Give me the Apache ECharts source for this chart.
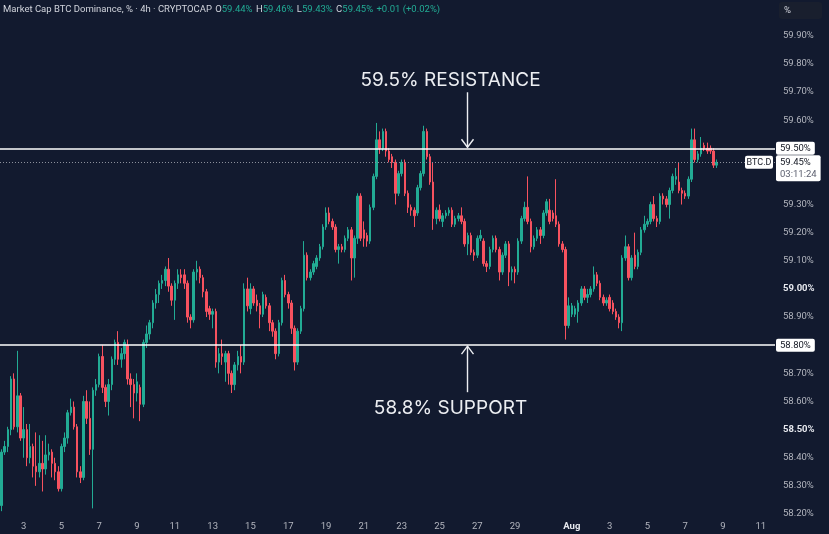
<!DOCTYPE html>
<html><head><meta charset="utf-8">
<script src="https://cdn.jsdelivr.net/npm/echarts/dist/echarts.min.js"></script>
<style>html,body{margin:0;padding:0;background:#121a2f;overflow:hidden}#c{width:829px;height:534px}</style>
</head><body><div id="c"></div>
<script>
// ---- data (4h candles starting 07-01 20:00) ----
const opens = [
58.23,58.42,58.44,58.50,58.68,58.51,58.62,58.47,58.50,58.40,
58.44,58.37,58.35,58.38,58.36,58.41,58.42,58.38,58.35,58.29,
58.44,58.47,58.56,58.58,58.51,58.35,58.33,58.60,58.54,58.43,
58.64,58.66,58.76,58.65,58.60,58.66,58.75,58.81,58.75,58.77,
58.80,58.68,58.66,58.63,58.65,58.59,58.81,58.84,58.88,58.95,
58.98,59.02,59.03,59.07,59.01,58.96,59.02,59.05,59.05,59.02,
58.90,58.89,59.06,59.07,59.04,58.99,58.93,58.91,58.92,58.74,
58.77,58.74,58.77,58.70,58.66,58.73,58.76,58.74,59.00,58.93,
59.00,58.96,58.94,58.91,58.97,58.94,58.88,58.85,58.77,58.88,
59.03,58.98,58.95,58.86,58.74,58.85,58.93,59.12,59.04,59.06,
59.08,59.11,59.15,59.22,59.27,59.24,59.22,59.14,59.15,59.14,
59.18,59.21,59.11,59.18,59.33,59.21,59.19,59.17,59.29,59.40,
59.53,59.50,59.56,59.49,59.47,59.45,59.34,59.41,59.45,59.34,
59.29,59.28,59.27,59.36,59.41,59.56,59.47,59.38,59.25,59.28,
59.24,59.26,59.27,59.28,59.23,59.25,59.26,59.24,59.16,59.19,
59.13,59.12,59.18,59.17,59.09,59.08,59.14,59.18,59.14,59.06,
59.12,59.16,59.06,59.07,59.06,59.17,59.25,59.29,59.24,59.15,
59.18,59.21,59.19,59.27,59.28,59.27,59.26,59.23,59.16,59.14,
58.87,58.91,58.91,58.92,58.95,59.00,58.97,58.98,59.00,59.05,
59.02,58.97,58.95,58.97,58.95,58.92,58.90,58.88,59.11,59.15,
59.04,59.12,59.08,59.13,59.21,59.23,59.24,59.30,59.25,59.24,
59.33,59.32,59.30,59.35,59.39,59.38,59.35,59.34,59.33,59.39,
59.53,59.46,59.48,59.51,59.50,59.50,59.49,59.44];
const closes = [
58.42,58.44,58.50,58.68,58.51,58.62,58.47,58.50,58.40,58.44,
58.37,58.35,58.38,58.36,58.41,58.42,58.38,58.35,58.29,58.44,
58.47,58.56,58.58,58.51,58.35,58.33,58.60,58.54,58.43,58.64,
58.66,58.76,58.65,58.60,58.66,58.75,58.81,58.75,58.77,58.81,
58.68,58.66,58.63,58.67,58.59,58.81,58.84,58.88,58.95,58.98,
59.02,59.03,59.07,59.01,58.96,59.02,59.05,59.04,59.02,58.90,
58.89,59.06,59.07,59.04,58.99,58.92,58.91,58.92,58.74,58.77,
58.76,58.77,58.70,58.66,58.73,58.76,58.74,59.00,58.94,59.00,
58.95,58.94,58.91,58.98,58.94,58.88,58.85,58.77,58.88,59.03,
58.98,58.95,58.86,58.74,58.85,58.93,59.12,59.04,59.06,59.09,
59.11,59.15,59.22,59.27,59.24,59.22,59.14,59.15,59.14,59.18,
59.21,59.11,59.18,59.33,59.18,59.18,59.17,59.29,59.40,59.53,
59.50,59.56,59.49,59.46,59.45,59.34,59.41,59.45,59.34,59.29,
59.28,59.26,59.36,59.41,59.56,59.47,59.38,59.25,59.28,59.25,
59.26,59.27,59.28,59.23,59.25,59.26,59.24,59.16,59.19,59.13,
59.12,59.18,59.19,59.09,59.08,59.14,59.18,59.14,59.06,59.12,
59.16,59.06,59.07,59.06,59.17,59.25,59.29,59.24,59.15,59.18,
59.21,59.19,59.27,59.31,59.24,59.25,59.23,59.16,59.14,58.87,
58.94,58.94,58.93,58.95,59.00,58.97,58.98,59.00,59.05,59.02,
58.97,58.95,58.96,58.93,58.92,58.90,58.88,59.11,59.15,59.04,
59.11,59.08,59.13,59.21,59.23,59.24,59.30,59.25,59.24,59.33,
59.32,59.30,59.35,59.40,59.40,59.35,59.34,59.33,59.39,59.53,
59.46,59.48,59.50,59.50,59.49,59.49,59.44,59.45];
const lows = [
58.21,58.41,58.42,58.48,58.50,58.49,58.46,58.40,58.37,58.38,
58.33,58.30,58.33,58.28,58.34,58.39,58.33,58.32,58.28,58.28,
58.42,58.45,58.55,58.50,58.33,58.31,58.32,58.52,58.41,58.22,
58.62,58.65,58.63,58.58,58.55,58.64,58.73,58.73,58.72,58.75,
58.66,58.58,58.54,58.60,58.53,58.58,58.79,58.82,58.86,58.93,
58.95,59.00,59.01,58.99,58.94,58.89,59.00,59.02,59.00,58.88,
58.86,58.88,59.03,59.02,58.97,58.90,58.89,58.86,58.72,58.70,
58.73,58.67,58.66,58.63,58.64,58.71,58.70,58.73,58.92,58.91,
58.94,58.92,58.86,58.90,58.93,58.85,58.83,58.75,58.76,58.87,
58.97,58.93,58.84,58.71,58.73,58.84,58.92,59.03,59.03,59.05,
59.07,59.10,59.14,59.21,59.23,59.21,59.13,59.09,59.13,59.13,
59.17,59.03,59.04,59.16,59.17,59.15,59.15,59.16,59.28,59.39,
59.48,59.49,59.47,59.45,59.43,59.30,59.33,59.40,59.33,59.27,
59.26,59.22,59.26,59.35,59.40,59.46,59.37,59.21,59.23,59.24,
59.22,59.25,59.26,59.22,59.22,59.24,59.23,59.15,59.12,59.12,
59.10,59.11,59.17,59.08,59.06,59.07,59.13,59.13,59.03,59.05,
59.11,59.01,59.03,59.02,59.05,59.16,59.24,59.23,59.13,59.14,
59.17,59.16,59.18,59.26,59.23,59.24,59.22,59.15,59.13,58.82,
58.86,58.90,58.90,58.88,58.94,58.96,58.95,58.97,58.99,59.01,
58.96,58.94,58.94,58.92,58.91,58.89,58.86,58.85,59.10,59.03,
59.03,59.07,59.07,59.12,59.20,59.22,59.23,59.24,59.22,59.23,
59.30,59.29,59.25,59.34,59.37,59.34,59.30,59.32,59.32,59.38,
59.45,59.45,59.47,59.49,59.48,59.48,59.43,59.43];
const highs = [
58.43,58.46,58.51,58.69,58.70,58.78,58.63,58.58,58.52,58.52,
58.45,58.49,58.48,58.46,58.48,58.45,58.43,58.40,58.37,58.45,
58.49,58.57,58.61,58.60,58.52,58.37,58.62,58.64,58.60,58.65,
58.68,58.77,58.80,58.66,58.68,58.76,58.82,58.85,58.79,58.82,
58.82,58.70,58.68,58.70,58.66,58.82,58.87,58.89,58.96,59.00,
59.03,59.05,59.08,59.11,59.02,59.03,59.07,59.07,59.07,59.03,
58.91,59.07,59.10,59.08,59.05,59.00,58.94,58.93,58.93,58.79,
58.82,58.78,58.78,58.71,58.74,58.78,58.80,59.02,59.04,59.02,
59.01,58.98,58.95,58.99,58.98,58.95,58.89,58.86,58.89,59.04,
59.05,58.99,58.96,58.87,58.86,58.94,59.17,59.13,59.07,59.10,
59.12,59.16,59.23,59.29,59.29,59.25,59.23,59.16,59.16,59.19,
59.22,59.22,59.19,59.34,59.34,59.24,59.20,59.30,59.41,59.59,
59.56,59.57,59.57,59.50,59.48,59.46,59.42,59.46,59.46,59.35,
59.30,59.29,59.37,59.42,59.58,59.57,59.48,59.45,59.29,59.30,
59.27,59.28,59.29,59.29,59.26,59.27,59.29,59.25,59.20,59.20,
59.14,59.19,59.21,59.18,59.10,59.15,59.19,59.19,59.15,59.13,
59.17,59.17,59.08,59.08,59.18,59.26,59.31,59.40,59.25,59.19,
59.22,59.22,59.28,59.32,59.32,59.28,59.39,59.24,59.17,59.15,
58.97,58.95,58.94,58.96,59.01,59.01,59.00,59.01,59.08,59.06,
59.03,58.98,58.97,58.98,58.96,58.93,58.91,59.12,59.19,59.16,
59.12,59.20,59.14,59.22,59.26,59.25,59.31,59.33,59.26,59.34,
59.34,59.33,59.36,59.41,59.43,59.45,59.36,59.35,59.40,59.57,
59.57,59.49,59.54,59.52,59.52,59.51,59.50,59.46];
const tickDates  = ['07-03','07-05','07-07','07-09','07-11','07-13','07-15','07-17','07-19','07-21','07-23','07-25','07-27','07-29','08-01','08-03','08-05','08-07','08-09','08-11'];
const tickLabels = ['3','5','7','9','11','13','15','17','19','21','23','25','27','29','Aug','3','5','7','9','11'];
const levels = [59.50, 58.80];
const levelTexts = ['59.5% RESISTANCE', '58.8% SUPPORT'];
const boldTicks = [59.00, 58.50];
const countdown = '03:11:24';
const symbolName = 'BTC.D';
const headerTitle = 'Market Cap BTC Dominance, % · 4h · CRYPTOCAP';

// ---- build ----
const UP = '#22ab94', DOWN = '#f7525f', BG = '#121a2f', AX = '#b2b5be';
const SLOT_COUNT = 246; // axis slots incl. empty future space
const pad = n => (n < 10 ? '0' : '') + n;
const categories = [];
for (let i = 0; i < SLOT_COUNT; i++) {
  const h = 20 + 4 * i; let d = 1 + Math.floor(h / 24); let m = 7;
  if (d > 31) { d -= 31; m = 8; }
  categories.push(pad(m) + '-' + pad(d) + ' ' + pad(h % 24) + ':00');
}
const tickMap = {};
tickDates.forEach((d, k) => { tickMap[d + ' 00:00'] = tickLabels[k]; });
const candles = opens.map((o, i) => [o, closes[i], lows[i], highs[i]]);
const n = closes.length;
const lastO = opens[n-1], lastH = highs[n-1], lastL = lows[n-1], lastC = closes[n-1];
const chg = lastC - closes[n-2];
const chgPct = chg / closes[n-2] * 100;
const sgn = v => (v >= 0 ? '+' : '') + v.toFixed(2);

const boxLabel = (txt) => ({
  show: true, position: 'end', distance: 1, formatter: txt,
  backgroundColor: '#ffffff', color: '#131722', fontSize: 9.5, fontFamily: 'Roboto',
  padding: [2, 4, 1, 4], borderRadius: 2
});

const chart = echarts.init(document.getElementById('c'), null, {renderer: 'canvas'});
const option = {
  backgroundColor: BG,
  animation: false,
  grid: {left: 0, right: 54, top: 0, bottom: 20},
  xAxis: {
    type: 'category', data: categories, boundaryGap: true,
    axisLine: {show: false}, axisTick: {show: false}, splitLine: {show: false},
    axisLabel: {
      color: AX, fontSize: 9.5, fontFamily: 'Roboto', margin: 8,
      interval: (idx, val) => tickMap[val] !== undefined,
      formatter: val => { const t = tickMap[val]; if (t === undefined) return ''; return t === 'Aug' ? '{b|Aug}' : t; },
      rich: {b: {fontWeight: 'bold', color: '#e6e8ee', fontSize: 9.5, fontFamily: 'Roboto'}}
    }
  },
  yAxis: {
    type: 'value', position: 'right', min: 58.2, max: 60.027, interval: 0.1, scale: true,
    axisLine: {show: false}, axisTick: {show: false}, splitLine: {show: false},
    axisLabel: {
      color: AX, fontSize: 9.5, fontFamily: 'Roboto', margin: 8,
      formatter: v => {
        if (v > 59.95) return '';
        const s = v.toFixed(2) + '%';
        return boldTicks.some(b => Math.abs(b - v) < 1e-6) ? '{b|' + s + '}' : s;
      },
      rich: {b: {fontWeight: 'bold', color: '#e6e8ee', fontSize: 9.5, fontFamily: 'Roboto'}}
    }
  },
  series: [{
    type: 'candlestick', data: candles, barWidth: 2,
    itemStyle: {color: UP, color0: DOWN, borderColor: UP, borderColor0: DOWN, borderWidth: 1},
    markLine: {
      symbol: ['none', 'none'], silent: true, animation: false,
      data: [
        {yAxis: lastC, lineStyle: {color: '#8c909c', width: 1, type: [1, 2]},
         label: {show: true, position: 'end', distance: 1, offset: [0, 6],
           formatter: '{p|' + lastC.toFixed(2) + '%}\n{t|' + countdown + '}',
           backgroundColor: '#ffffff', padding: [1, 4, 1, 4], borderRadius: 2,
           rich: {p: {color: '#131722', fontSize: 9.5, fontFamily: 'Roboto', lineHeight: 12},
                  t: {color: '#5d6070', fontSize: 9.5, fontFamily: 'Roboto', lineHeight: 12}}}},
        {yAxis: levels[0], lineStyle: {color: '#ffffff', width: 1.5, type: 'solid'}, label: boxLabel(levels[0].toFixed(2) + '%')},
        {yAxis: levels[1], lineStyle: {color: '#ffffff', width: 1.5, type: 'solid'}, label: boxLabel(levels[1].toFixed(2) + '%')}
      ]
    }
  }]
};
chart.setOption(option);

const yRes = chart.convertToPixel({yAxisIndex: 0}, levels[0]);
const ySup = chart.convertToPixel({yAxisIndex: 0}, levels[1]);
const yLast = chart.convertToPixel({yAxisIndex: 0}, lastC);
const ax = Math.round(chart.convertToPixel({xAxisIndex: 0}, categories[148])) - 0.5;
const WHITE = '#eceef2';
const arrowStyle = {stroke: WHITE, lineWidth: 1.4, fill: null};

chart.setOption({
  graphic: [
    {type: 'text', left: 3, top: 4, z: 100, style: {
      text: '{t|' + headerTitle + '} {l|O}{g|' + lastO.toFixed(2) + '%} {l|H}{g|' + lastH.toFixed(2) + '%} {l|L}{g|' + lastL.toFixed(2) + '%} {l|C}{g|' + lastC.toFixed(2) + '%} {g|' + sgn(chg) + ' (' + sgn(chgPct) + '%)}',
      rich: {
        t: {fill: '#d1d4dc', fontSize: 9.5, fontFamily: 'Roboto'},
        l: {fill: '#d1d4dc', fontSize: 9.5, fontFamily: 'Roboto'},
        g: {fill: UP, fontSize: 9.5, fontFamily: 'Roboto'}
      }}},
    {type: 'rect', shape: {x: 779, y: 2, width: 43, height: 17, r: 3}, z: 100, style: {fill: '#191f2e'}},
    {type: 'text', x: 784, y: 10.5, z: 101, style: {text: '%', fill: '#d1d4dc', fontSize: 9.5, fontFamily: 'Roboto', verticalAlign: 'middle'}},
    // resistance annotation
    {type: 'text', x: ax - 17, y: yRes - 68, z: 100, style: {text: levelTexts[0], fill: WHITE, fontSize: 19, fontFamily: 'Inter', align: 'center', verticalAlign: 'middle'}},
    {type: 'line', z: 100, shape: {x1: ax, y1: yRes - 56, x2: ax, y2: yRes - 1}, style: arrowStyle},
    {type: 'polyline', z: 100, shape: {points: [[ax - 6, yRes - 9], [ax, yRes - 1], [ax + 6, yRes - 9]]}, style: arrowStyle},
    // support annotation
    {type: 'text', x: ax - 17, y: ySup + 63, z: 100, style: {text: levelTexts[1], fill: WHITE, fontSize: 19, fontFamily: 'Inter', align: 'center', verticalAlign: 'middle'}},
    {type: 'line', z: 100, shape: {x1: ax, y1: ySup + 1, x2: ax, y2: ySup + 47}, style: arrowStyle},
    {type: 'polyline', z: 100, shape: {points: [[ax - 6, ySup + 9], [ax, ySup + 1], [ax + 6, ySup + 9]]}, style: arrowStyle},
    // symbol tag on the last-price line
    {type: 'rect', z: 100, shape: {x: 745, y: yLast - 6.5, width: 28, height: 13, r: 2}, style: {fill: '#ffffff'}},
    {type: 'text', z: 101, x: 759, y: yLast, style: {text: symbolName, fill: '#131722', fontSize: 9, fontFamily: 'Roboto', align: 'center', verticalAlign: 'middle'}}
  ]
});
</script></body></html>
